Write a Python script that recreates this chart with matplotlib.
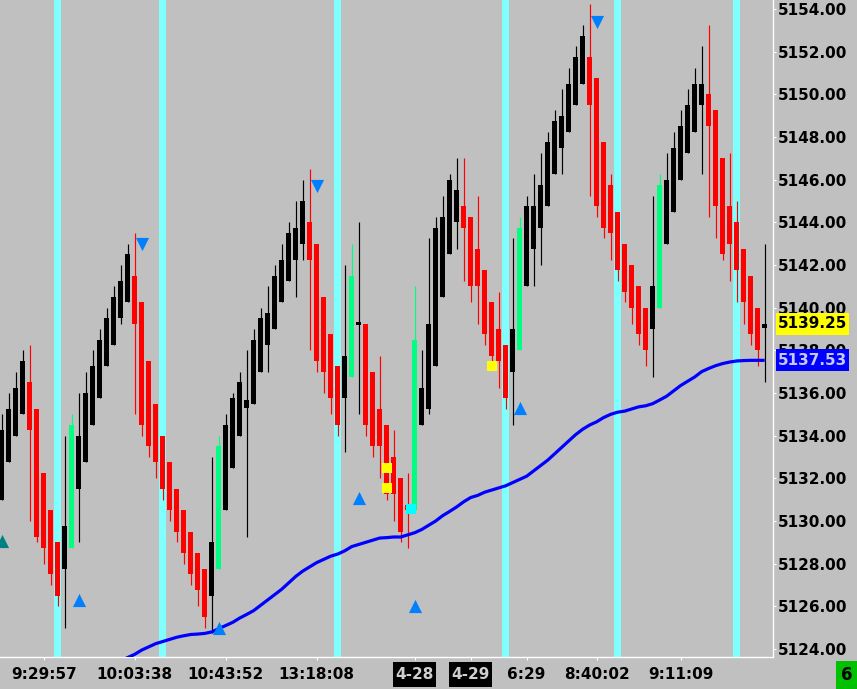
import matplotlib
matplotlib.use('Agg')
import matplotlib.pyplot as plt
from matplotlib.patches import Rectangle
import numpy as np

plt.rcParams['font.family'] = ['DejaVu Sans']

# ---------------- data ----------------
opens = [5131.0, 5132.75, 5134.0, 5135.0, 5136.5, 5135.25, 5132.25, 5130.5, 5129.0, 5127.75,
         5128.75, 5131.5, 5132.75, 5134.5, 5135.75, 5137.25, 5138.25, 5139.5, 5140.25, 5141.5,
         5140.25, 5137.5, 5135.5, 5134.0, 5132.75, 5131.5, 5130.5, 5129.5, 5128.5, 5127.75,
         5126.5, 5127.75, 5130.5, 5132.5, 5134.0, 5135.3, 5135.5, 5137.0, 5138.25, 5139.0,
         5140.25, 5141.25, 5142.25, 5143.0, 5144.0, 5143.0, 5140.5, 5138.75, 5137.25, 5135.75,
         5136.75, 5139.2, 5139.25, 5137.0, 5135.25, 5134.5, 5133.0, 5132.0, 5130.75, 5130.5,
         5134.5, 5135.25, 5137.25, 5140.5, 5142.5, 5144.0, 5144.75, 5144.25, 5142.75, 5141.75,
         5140.25, 5139.0, 5138.25, 5137.0, 5138.0, 5141.0, 5142.75, 5143.75, 5144.75, 5146.25,
         5147.5, 5148.25, 5149.5, 5150.5, 5151.75, 5150.75, 5147.75, 5145.75, 5144.5, 5143.0,
         5142.0, 5141.0, 5140.0, 5139.0, 5140.0, 5143.0, 5144.5, 5146.0, 5147.25, 5148.25,
         5149.5, 5150.0, 5149.25, 5147.0, 5144.75, 5144.0, 5142.75, 5141.5, 5140.0, 5139.05]
highs = [5135.0, 5136.0, 5137.0, 5138.0, 5138.25, 5135.25, 5132.25, 5130.5, 5129.0, 5134.0,
         5135.0, 5136.0, 5137.0, 5138.0, 5139.0, 5140.0, 5141.0, 5142.0, 5143.0, 5143.5,
         5140.25, 5137.5, 5135.5, 5134.0, 5132.75, 5131.5, 5130.5, 5129.5, 5128.5, 5127.75,
         5133.0, 5134.0, 5135.0, 5136.0, 5137.0, 5138.0, 5139.0, 5140.0, 5141.0, 5142.0,
         5143.0, 5144.0, 5145.0, 5146.0, 5146.5, 5143.0, 5140.5, 5138.75, 5137.25, 5142.0,
         5143.0, 5144.0, 5139.25, 5137.0, 5137.75, 5134.5, 5134.25, 5132.0, 5132.25, 5141.0,
         5138.0, 5143.25, 5144.25, 5145.25, 5146.25, 5147.0, 5147.0, 5144.25, 5145.25, 5141.75,
         5140.25, 5140.75, 5138.25, 5143.25, 5144.25, 5145.25, 5146.25, 5147.25, 5148.25, 5149.25,
         5150.25, 5151.25, 5152.25, 5153.25, 5154.25, 5150.75, 5147.75, 5146.25, 5144.5, 5143.0,
         5142.0, 5141.0, 5140.0, 5145.25, 5146.25, 5147.25, 5148.25, 5149.25, 5150.25, 5151.25,
         5152.25, 5153.25, 5149.25, 5147.0, 5147.25, 5145.0, 5142.75, 5141.5, 5140.0, 5143.0]
lows = [5131.0, 5132.75, 5134.0, 5135.0, 5130.0, 5129.0, 5128.0, 5127.0, 5126.0, 5125.0,
        5128.75, 5129.0, 5132.75, 5134.5, 5135.75, 5137.25, 5138.25, 5139.25, 5140.25, 5135.0,
        5134.0, 5133.0, 5132.0, 5131.0, 5130.0, 5129.0, 5128.0, 5127.0, 5126.0, 5125.0,
        5124.75, 5127.75, 5130.5, 5132.5, 5134.0, 5129.25, 5135.5, 5137.0, 5137.0, 5139.0,
        5140.25, 5141.25, 5140.5, 5142.25, 5138.0, 5137.0, 5136.0, 5135.0, 5134.0, 5133.25,
        5136.75, 5135.0, 5134.0, 5133.0, 5132.0, 5131.0, 5130.0, 5129.0, 5128.75, 5130.5,
        5134.5, 5135.0, 5137.25, 5140.5, 5142.5, 5142.75, 5141.25, 5140.25, 5139.25, 5138.25,
        5137.5, 5136.25, 5135.25, 5134.5, 5138.0, 5141.0, 5141.0, 5142.0, 5144.75, 5146.25,
        5146.25, 5148.25, 5149.5, 5150.5, 5145.25, 5144.25, 5143.25, 5142.25, 5141.25, 5140.25,
        5139.25, 5138.25, 5137.25, 5136.75, 5140.0, 5143.0, 5144.5, 5146.0, 5147.25, 5148.25,
        5146.25, 5144.25, 5143.25, 5142.25, 5141.25, 5140.25, 5139.25, 5138.25, 5137.25, 5136.5]
closes = [5134.25, 5135.25, 5136.25, 5137.5, 5134.25, 5129.25, 5128.75, 5127.5, 5126.5, 5129.75,
          5134.5, 5134.0, 5136.0, 5137.25, 5138.5, 5139.5, 5140.5, 5141.25, 5142.5, 5139.25,
          5134.5, 5133.5, 5132.75, 5131.5, 5130.5, 5129.5, 5128.5, 5127.5, 5126.75, 5125.5,
          5129.0, 5133.5, 5134.5, 5135.75, 5136.5, 5135.65, 5138.5, 5139.5, 5139.75, 5141.5,
          5142.25, 5143.5, 5143.75, 5145.0, 5142.25, 5137.5, 5137.0, 5135.75, 5134.5, 5137.75,
          5141.5, 5139.3, 5134.5, 5133.5, 5133.5, 5131.25, 5131.25, 5129.5, 5130.5, 5138.5,
          5136.25, 5139.25, 5143.75, 5144.25, 5146.0, 5145.5, 5143.75, 5141.0, 5141.0, 5138.75,
          5137.75, 5137.5, 5135.75, 5139.0, 5143.75, 5144.75, 5144.75, 5145.75, 5147.75, 5148.75,
          5149.0, 5150.5, 5151.75, 5152.75, 5149.5, 5144.75, 5143.75, 5143.5, 5141.75, 5140.75,
          5140.0, 5138.75, 5138.0, 5141.0, 5145.75, 5146.0, 5147.5, 5148.5, 5149.5, 5150.5,
          5150.5, 5148.5, 5144.75, 5142.5, 5143.0, 5141.75, 5140.25, 5138.75, 5138.0, 5139.25]
# candle type: b = black (up), r = red (down), g = green (signal up)
kinds = list("bbbbrrrrrbgbbbbbbbbrrrrrrrrrrrbgbbbbbbbbbbbbrrrrrbgbrrrrrrrg"
             "bbbbbbrrrrrrrbgbbbbbbbbbrrrrrrrrrbgbbbbbbrrrrrrrrb")

ma_start = 17
ma_vals = [5123.45, 5123.6, 5123.75, 5123.95, 5124.1, 5124.25, 5124.35, 5124.45, 5124.55, 5124.62,
           5124.68, 5124.7, 5124.73, 5124.8, 5124.95, 5125.1, 5125.25, 5125.45, 5125.62, 5125.8,
           5126.05, 5126.3, 5126.55, 5126.8, 5127.1, 5127.4, 5127.65, 5127.85, 5128.05, 5128.2,
           5128.35, 5128.45, 5128.6, 5128.8, 5128.9, 5129.0, 5129.1, 5129.2, 5129.22, 5129.25,
           5129.25, 5129.35, 5129.45, 5129.6, 5129.8, 5130.0, 5130.25, 5130.45, 5130.66, 5130.9,
           5131.1, 5131.2, 5131.35, 5131.45, 5131.55, 5131.65, 5131.8, 5131.95, 5132.1, 5132.35,
           5132.6, 5132.85, 5133.15, 5133.45, 5133.75, 5134.05, 5134.3, 5134.5, 5134.65, 5134.85,
           5135.0, 5135.1, 5135.15, 5135.25, 5135.35, 5135.4, 5135.5, 5135.67, 5135.85, 5136.1,
           5136.35, 5136.55, 5136.75, 5137.0, 5137.15, 5137.28, 5137.38, 5137.45, 5137.5, 5137.52,
           5137.53, 5137.53, 5137.53]

session_bars = [8, 23, 48, 72, 88, 105]

up_blue_idx = [11, 31, 51, 59, 74]
up_blue_px = [5126.3, 5125.0, 5131.1, 5126.0, 5135.3]
down_blue_idx = [20, 45, 85]
down_blue_px = [5143.0, 5145.7, 5153.4]
teal_up_idx = [0]
teal_up_px = [5129.06]
yellow_sq_idx = [55, 55, 70]
yellow_sq_px = [5132.5, 5131.55, 5137.27]
cyan_sq_idx = [58.5]
cyan_sq_px = [5130.55]

xtick_idx = [6, 19, 32, 45, 59, 67, 75, 85, 97]
xtick_labels = ["9:29:57", "10:03:38", "10:43:52", "13:18:08", "4-28", "4-29",
                "6:29", "8:40:02", "9:11:09"]
date_labels = ["4-28", "4-29"]
ytick_vals = list(range(5124, 5155, 2))

last_price = 5139.25
ma_last = 5137.53
bar_count_text = "6"

# ---------------- figure ----------------
W, H = 857, 689
BG = '#C0C0C0'
fig = plt.figure(figsize=(W / 100, H / 100), dpi=100)
fig.patch.set_facecolor(BG)
ax = fig.add_axes([0, (H - 657) / H, 773 / W, 657 / H])
ax.set_facecolor(BG)
ax.set_xlim(-0.243, 110.19)
ax.set_ylim(5123.625, 5154.42)

for s in session_bars:
    ax.axvspan(s - 0.5, s + 0.5, color='#80FFFF', lw=0, zorder=1)

colmap = {'b': '#000000', 'r': '#FF0000', 'g': '#00FF80'}
x = np.arange(len(opens))
o = np.array(opens); c = np.array(closes)
cols = [colmap[k] for k in kinds]
ax.vlines(x, lows, highs, colors=cols, linewidth=0.85, zorder=2)
body_bottom = np.minimum(o, c)
body_h = np.maximum(np.abs(c - o), 0.12)
ax.bar(x, body_h, bottom=body_bottom, width=0.76, color=cols, linewidth=0,
       zorder=3)

ma_x = np.arange(ma_start, ma_start + len(ma_vals))
ax.plot(ma_x, ma_vals, color='#0000FF', lw=2.3, zorder=4, solid_capstyle='butt')

ax.scatter(up_blue_idx, up_blue_px, marker='^', s=90, color='#0080FF', lw=0, zorder=5)
ax.scatter(down_blue_idx, down_blue_px, marker='v', s=90, color='#0080FF', lw=0, zorder=5)
ax.scatter(teal_up_idx, teal_up_px, marker='^', s=90, color='#008080', lw=0, zorder=5)
ax.scatter(yellow_sq_idx, yellow_sq_px, marker='s', s=52, color='#FFFF00', lw=0, zorder=5)
ax.scatter(cyan_sq_idx, cyan_sq_px, marker='s', s=52, color='#00FFFF', lw=0, zorder=5)

# axes styling
for sp in ['top', 'left']:
    ax.spines[sp].set_visible(False)
for sp in ['right', 'bottom']:
    ax.spines[sp].set_color('white')
    ax.spines[sp].set_linewidth(1.0)

ax.yaxis.tick_right()
ax.set_yticks(ytick_vals)
ax.set_yticklabels([f"{v:.2f}" for v in ytick_vals], fontsize=11, fontweight='bold')
ax.tick_params(axis='y', direction='out', length=2.5, width=0.8, color='white', pad=1.2,
               labelcolor='black')
ax.set_xticks(xtick_idx)
ax.set_xticklabels(xtick_labels, fontsize=11, fontweight='bold')
ax.tick_params(axis='x', direction='out', length=2.5, width=0.8, color='white', pad=5,
               labelcolor='black')
for lab in ax.get_xticklabels():
    if lab.get_text() in date_labels:
        lab.set_color('#D0D0D0')

# black boxes behind date labels
def fig_rect(x0, y0, x1, y1, color, z):
    r = Rectangle((x0 / W, 1 - y1 / H), (x1 - x0) / W, (y1 - y0) / H,
                  transform=fig.transFigure, facecolor=color, edgecolor='none', zorder=z)
    fig.add_artist(r)

for i, lab in zip(xtick_idx, xtick_labels):
    if lab in date_labels:
        xc = ax.transData.transform((i, 5130))[0]
        fig_rect(xc - 21.5, 662, xc + 21.5, 687, 'black', -1)

# price boxes on the right
def price_box(price, face, tcolor):
    yc = H - ax.transData.transform((0, price))[1]
    fig_rect(776, yc - 11, 849, yc + 11, face, 2)
    fig.text(812.5 / W, 1 - yc / H, f"{price:.2f}", ha='center', va='center',
             fontsize=11, fontweight='bold', color=tcolor, zorder=3)

price_box(last_price, '#FFFF00', 'black')
price_box(ma_last, '#0000FF', '#C8C8F0')

fig_rect(836, 661, 857, 689, '#00C000', 2)
fig.text(846.5 / W, 1 - 675 / H, bar_count_text, ha='center', va='center',
         fontsize=12, fontweight='bold', color='black', zorder=3)

fig.savefig('out.png', dpi=100, facecolor=BG)
